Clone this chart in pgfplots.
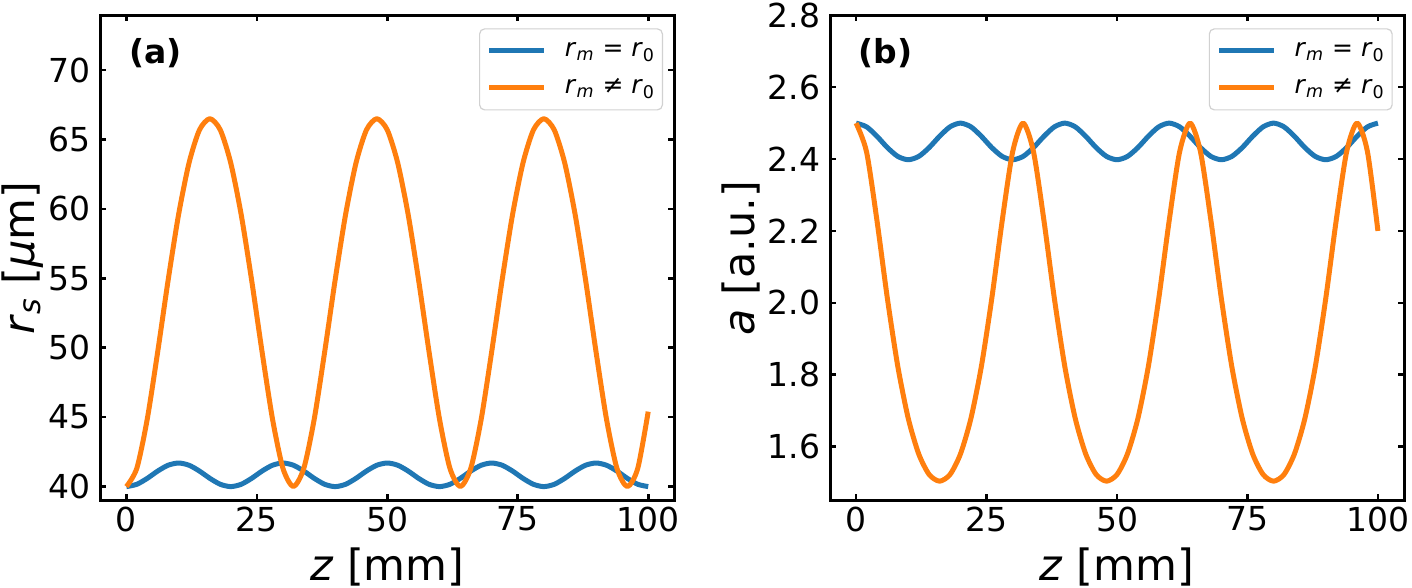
\documentclass[border=0pt]{standalone}
\usepackage{fontspec}
\setmainfont{DejaVu Sans}
\usepackage{pgfplots}
\pgfplotsset{compat=1.18}
\usepackage{pgfplotstable}
\definecolor{tabblue}{HTML}{1F77B4}
\definecolor{taborange}{HTML}{FF7F0E}
\newcommand{\tickfont}{\fontsize{16.5}{19.8}\selectfont}
\newcommand{\labfont}{\fontsize{21.5}{25}\selectfont}
\newcommand{\legfont}{\fontsize{12.5}{15}\selectfont}

\pgfplotstableread{
z rb ro
0 40.000 40.00
2 40.166 41.32
4 40.595 44.87
6 41.121 49.71
8 41.541 54.87
10 41.700 59.59
12 41.541 63.31
14 41.121 65.69
16 40.595 66.50
18 40.166 65.69
20 40.000 63.31
22 40.166 59.59
24 40.595 54.87
26 41.121 49.71
28 41.541 44.87
30 41.700 41.32
32 41.541 40.00
34 41.121 41.32
36 40.595 44.87
38 40.166 49.71
40 40.000 54.87
42 40.166 59.59
44 40.595 63.31
46 41.121 65.69
48 41.541 66.50
50 41.700 65.69
52 41.541 63.31
54 41.121 59.59
56 40.595 54.87
58 40.166 49.71
60 40.000 44.87
62 40.166 41.32
64 40.595 40.00
66 41.121 41.32
68 41.541 44.87
70 41.700 49.71
72 41.541 54.87
74 41.121 59.59
76 40.595 63.31
78 40.166 65.69
80 40.000 66.50
82 40.166 65.69
84 40.595 63.31
86 41.121 59.59
88 41.541 54.87
90 41.700 49.71
92 41.541 44.87
94 41.121 41.32
96 40.595 40.00
98 40.166 41.32
100 40.000 45.40
}\tabr

\pgfplotstableread{
z ab ao
0 2.5000 2.5000
2 2.4897 2.4201
4 2.4634 2.2287
6 2.4319 2.0117
8 2.4073 1.8225
10 2.3981 1.6781
12 2.4073 1.5795
14 2.4319 1.5223
16 2.4634 1.5038
18 2.4897 1.5223
20 2.5000 1.5795
22 2.4897 1.6781
24 2.4634 1.8225
26 2.4319 2.0117
28 2.4073 2.2287
30 2.3981 2.4201
32 2.4073 2.5000
34 2.4319 2.4201
36 2.4634 2.2287
38 2.4897 2.0117
40 2.5000 1.8225
42 2.4897 1.6781
44 2.4634 1.5795
46 2.4319 1.5223
48 2.4073 1.5038
50 2.3981 1.5223
52 2.4073 1.5795
54 2.4319 1.6781
56 2.4634 1.8225
58 2.4897 2.0117
60 2.5000 2.2287
62 2.4897 2.4201
64 2.4634 2.5000
66 2.4319 2.4201
68 2.4073 2.2287
70 2.3981 2.0117
72 2.4073 1.8225
74 2.4319 1.6781
76 2.4634 1.5795
78 2.4897 1.5223
80 2.5000 1.5038
82 2.4897 1.5223
84 2.4634 1.5795
86 2.4319 1.6781
88 2.4073 1.8225
90 2.3981 2.0117
92 2.4073 2.2287
94 2.4319 2.4201
96 2.4634 2.5000
98 2.4897 2.4201
100 2.5000 2.2000
}\taba

\pgfplotsset{
  panel/.style={
    scale only axis, width=287pt, height=242.6pt,
    xmin=-5, xmax=105,
    xtick={0,25,50,75,100},
    tick align=inside, tick pos=both,
    major tick length=3pt,
    every tick/.style={black, line width=1.3pt},
    axis line style={line width=1.5pt},
    tick label style={font=\tickfont},
    /pgf/number format/assume math mode=true,
    xticklabel style={inner ysep=3pt},
    yticklabel style={inner xsep=4.6pt},
    label style={font=\labfont},
    xlabel style={at={(axis description cs:0.5,-0.1649)}, anchor=base},
    legend style={
      at={(axis description cs:1,1)}, anchor=north east,
      xshift=-5.65pt, yshift=-6.5pt,
      draw=black!18, line width=0.6pt, rounded corners=2.5pt,
      font=\legfont, inner xsep=3.65pt, inner ysep=4pt,
      row sep=4.5pt, column sep=9pt,
      nodes={inner sep=0pt, text height=10pt, text depth=4pt},
    },
    legend cell align=left,
    legend image code/.code={\draw[##1, line width=2.5pt] (0pt,0pt) -- (27.5pt,0pt);},
    every axis plot/.append style={line width=2.5pt, line join=round, smooth, tension=0.45},
  }
}

\begin{document}
\begin{tikzpicture}
\useasboundingbox (0,0) rectangle (706pt,294pt);
\begin{axis}[panel,
  at={(50.15pt,43.75pt)}, anchor=south west,
  ymin=39.0, ymax=73.95,
  ytick={40,45,50,55,60,65,70},
  xlabel={\textit{z} [mm]},
  ylabel={\textit{r}\textsubscript{\textit{s}} [\textit{μ}m]},
  ylabel style={at={(axis description cs:-0.1146,0.5)}, anchor=base, rotate=0},
]
\addplot[tabblue] table[x=z, y=rb] {\tabr};
\addlegendentry{\textit{r}\textsubscript{\textit{m}} = \textit{r}\textsubscript{0}}
\addplot[taborange] table[x=z, y=ro] {\tabr};
\addlegendentry{\textit{r}\textsubscript{\textit{m}} ≠ \textit{r}\textsubscript{0}}
\node[font=\bfseries\fontsize{16.5}{19}\selectfont] at (rel axis cs:0.0965,0.922) {(a)};
\end{axis}

\begin{axis}[panel,
  at={(415pt,43.75pt)}, anchor=south west,
  ymin=1.45, ymax=2.8,
  ytick={1.6,1.8,2.0,2.2,2.4,2.6,2.8},
  yticklabel style={/pgf/number format/.cd, fixed, fixed zerofill, precision=1},
  xlabel={\textit{z} [mm]},
  ylabel={\textit{a} [a.u.]},
  ylabel style={at={(axis description cs:-0.1315,0.5)}, anchor=base, rotate=0},
]
\addplot[tabblue] table[x=z, y=ab] {\taba};
\addlegendentry{\textit{r}\textsubscript{\textit{m}} = \textit{r}\textsubscript{0}}
\addplot[taborange] table[x=z, y=ao] {\taba};
\addlegendentry{\textit{r}\textsubscript{\textit{m}} ≠ \textit{r}\textsubscript{0}}
\node[font=\bfseries\fontsize{16.5}{19}\selectfont] at (rel axis cs:0.0965,0.922) {(b)};
\end{axis}
\end{tikzpicture}
\end{document}
